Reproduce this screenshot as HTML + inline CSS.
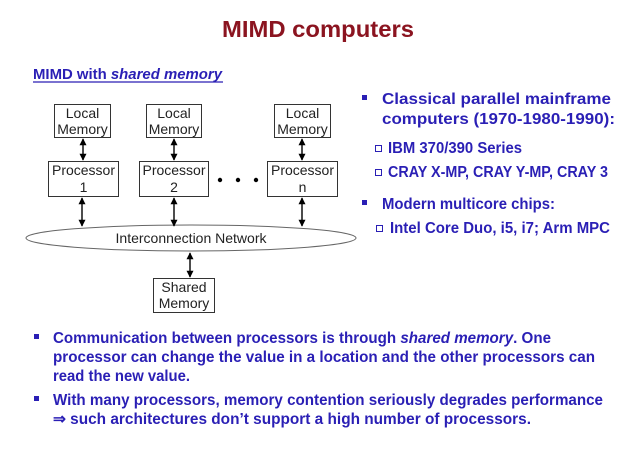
<!DOCTYPE html>
<html><head><meta charset="utf-8"><style>
html,body{margin:0;padding:0;background:#fff;}
svg{display:block;}
</style></head><body>
<svg width="638" height="451" viewBox="0 0 638 451" xmlns="http://www.w3.org/2000/svg">
<defs>
<marker id="a" viewBox="0 0 10 10" refX="9" refY="5" markerWidth="8" markerHeight="7" orient="auto-start-reverse" markerUnits="userSpaceOnUse"><path d="M0,0 L10,5 L0,10 z" fill="#000"/></marker>
</defs>
<text x="318" y="37" text-anchor="middle" font-family="Liberation Sans, sans-serif" font-size="23" font-weight="bold" fill="#8b1420" textLength="192" lengthAdjust="spacingAndGlyphs">MIMD computers</text>
<text x="33" y="79" font-family="Liberation Sans, sans-serif" font-size="14.5" font-weight="bold" fill="#2a1fb5" textLength="189" lengthAdjust="spacingAndGlyphs">MIMD with <tspan font-style="italic">shared memory</tspan></text>
<line x1="33" y1="82" x2="223" y2="82" stroke="#2a1fb5" stroke-width="1.2"/>
<g font-family="Liberation Sans, sans-serif" font-size="14" fill="#222" text-anchor="middle" stroke-width="1" >
<rect x="54.5" y="104.5" width="56" height="33" fill="#fff" stroke="#333"/>
<text x="82.5" y="118">Local</text><text x="82.5" y="134">Memory</text>
<rect x="146.5" y="104.5" width="55" height="33" fill="#fff" stroke="#333"/>
<text x="174" y="118">Local</text><text x="174" y="134">Memory</text>
<rect x="274.5" y="104.5" width="56" height="33" fill="#fff" stroke="#333"/>
<text x="302.5" y="118">Local</text><text x="302.5" y="134">Memory</text>
<rect x="48.5" y="161.5" width="70" height="35" fill="#fff" stroke="#333"/>
<text x="83.5" y="175">Processor</text><text x="83.5" y="192">1</text>
<rect x="139.5" y="161.5" width="69" height="35" fill="#fff" stroke="#333"/>
<text x="174" y="175">Processor</text><text x="174" y="192">2</text>
<rect x="267.5" y="161.5" width="70" height="35" fill="#fff" stroke="#333"/>
<text x="302.5" y="175">Processor</text><text x="302.5" y="192">n</text>
<ellipse cx="191" cy="238" rx="165" ry="13" fill="#fff" stroke="#666"/>
<text x="191" y="243">Interconnection Network</text>
<rect x="153.5" y="278.5" width="61" height="34" fill="#fff" stroke="#333"/>
<text x="184" y="292">Shared</text><text x="184" y="308">Memory</text>
</g>
<g stroke="#000" stroke-width="1.4" marker-start="url(#a)" marker-end="url(#a)">
<line x1="83" y1="139" x2="83" y2="160"/>
<line x1="174" y1="139" x2="174" y2="160"/>
<line x1="302" y1="139" x2="302" y2="160"/>
<line x1="82" y1="198" x2="82" y2="226"/>
<line x1="174" y1="198" x2="174" y2="226"/>
<line x1="302" y1="198" x2="302" y2="226"/>
<line x1="190" y1="253" x2="190" y2="277"/>
</g>
<circle cx="220" cy="180" r="2.2" fill="#000"/><circle cx="238" cy="180" r="2.2" fill="#000"/><circle cx="256" cy="180" r="2.2" fill="#000"/>
<g font-family="Liberation Sans, sans-serif" font-size="15.5" font-weight="bold" fill="#2a1fb5">
<rect x="362" y="95" width="5" height="5"/>
<text x="382" y="104" textLength="229" lengthAdjust="spacingAndGlyphs">Classical parallel mainframe</text>
<text x="382" y="124" textLength="233" lengthAdjust="spacingAndGlyphs">computers (1970-1980-1990):</text>
<rect x="375.5" y="145.5" width="6" height="6" fill="none" stroke="#2a1fb5" stroke-width="1"/>
<text x="388" y="153" textLength="134" lengthAdjust="spacingAndGlyphs">IBM 370/390 Series</text>
<rect x="375.5" y="169.5" width="6" height="6" fill="none" stroke="#2a1fb5" stroke-width="1"/>
<text x="388" y="177" textLength="220" lengthAdjust="spacingAndGlyphs">CRAY X-MP, CRAY Y-MP, CRAY 3</text>
<rect x="362" y="200" width="5" height="5"/>
<text x="382" y="209" textLength="173" lengthAdjust="spacingAndGlyphs">Modern multicore chips:</text>
<rect x="376.5" y="225.5" width="6" height="6" fill="none" stroke="#2a1fb5" stroke-width="1"/>
<text x="390" y="233" textLength="220" lengthAdjust="spacingAndGlyphs">Intel Core Duo, i5, i7; Arm MPC</text>
<rect x="34" y="334" width="5" height="5"/>
<text x="53" y="343" textLength="498" lengthAdjust="spacingAndGlyphs">Communication between processors is through <tspan font-style="italic">shared memory</tspan>. One</text>
<text x="53" y="362" textLength="542" lengthAdjust="spacingAndGlyphs">processor can change the value in a location and the other processors can</text>
<text x="53" y="381" textLength="137" lengthAdjust="spacingAndGlyphs">read the new value.</text>
<rect x="34" y="396" width="5" height="5"/>
<text x="53" y="405" textLength="550" lengthAdjust="spacingAndGlyphs">With many processors, memory contention seriously degrades performance</text>
<text x="53" y="424" textLength="478" lengthAdjust="spacingAndGlyphs">⇒ such architectures don’t support a high number of processors.</text>
</g>
</svg>
</body></html>
